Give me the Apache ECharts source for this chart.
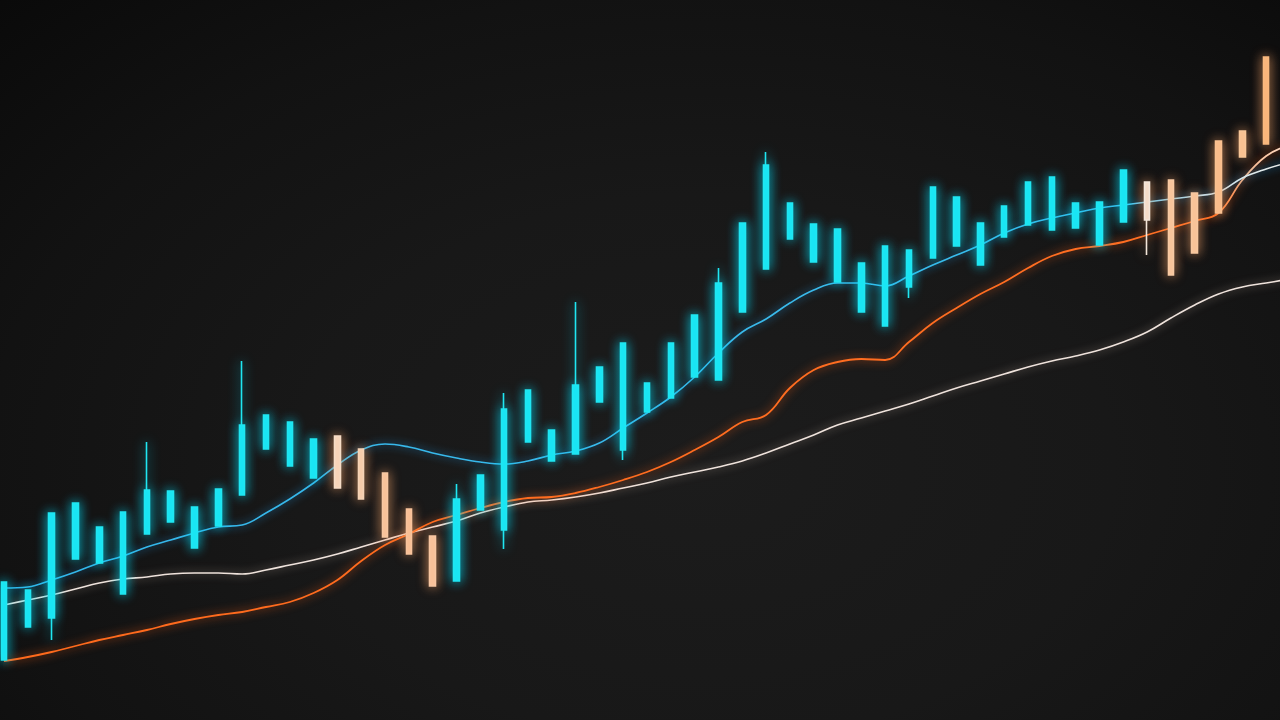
<!DOCTYPE html>
<html>
<head>
<meta charset="utf-8">
<script src="https://cdn.jsdelivr.net/npm/echarts@6/dist/echarts.min.js"></script>
<style>
html,body{margin:0;padding:0;width:1280px;height:720px;overflow:hidden;
background:radial-gradient(ellipse 80% 95% at 55% 65%, #1c1c1c 0%, #181818 40%, #121212 70%, #090909 100%);}
#chart{width:1280px;height:720px;}
</style>
</head>
<body>
<div id="chart"></div>
<script>
// ---- data (price units) ----
const categories = Array.from({length: 55}, (_, i) => 'D' + (i + 1));
const openVals  = [6.0,9.3,10.2,16.1,15.7,12.6,18.6,19.8,17.2,19.4,22.5,27.1,25.4,24.2,28.4,27.1,24.7,21.1,18.4,13.9,21.0,19.0,27.8,25.9,26.6,31.8,27.0,30.8,32.2,34.3,34.0,40.8,45.1,48.1,45.8,43.8,40.8,39.4,43.3,46.2,47.4,45.5,48.3,49.5,49.0,49.2,47.5,49.8,53.8,54.0,52.7,57.9,58.9,66.3];
const closeVals = [13.8,13.0,20.7,21.7,19.3,20.8,23.0,22.9,21.3,23.1,29.5,30.5,29.8,28.1,23.2,22.1,18.3,16.6,13.4,22.1,24.5,31.1,33.0,29.0,33.5,35.3,37.7,33.7,37.7,40.5,43.7,49.7,55.5,51.7,49.6,49.1,45.7,47.4,47.0,53.3,52.3,49.7,51.4,53.8,54.3,51.7,51.8,55.0,50.0,44.5,46.7,50.7,56.3,57.6];
const lowVals   = [6.0,9.3,8.0,16.1,15.7,12.6,18.6,19.8,17.2,19.4,22.5,27.1,25.4,24.2,23.2,22.1,18.3,16.6,13.4,13.9,21.0,17.1,27.8,25.9,26.6,31.8,26.0,30.8,32.2,34.3,34.0,40.8,45.1,48.1,45.8,43.8,40.8,39.4,42.2,46.2,47.4,45.5,48.3,49.5,49.0,49.2,47.5,49.8,46.5,44.5,46.7,50.7,56.3,57.6];
const highVals  = [13.8,13.0,20.7,21.7,19.3,20.8,27.8,22.9,21.3,23.1,35.9,30.5,29.8,28.1,28.4,27.1,24.7,21.1,18.4,23.6,24.5,32.7,33.0,29.0,41.8,35.3,37.7,33.7,37.7,40.5,45.2,49.7,56.8,51.7,49.6,49.1,45.7,47.4,47.0,53.3,52.3,49.7,51.4,53.8,54.3,51.7,51.8,55.0,53.8,54.0,52.7,57.9,58.9,66.3];
const maCyan   = [13.2,13.3,14.0,14.8,15.7,16.4,17.3,18.0,18.7,19.3,19.5,20.7,22.1,23.7,25.5,27.0,27.6,27.3,26.7,26.2,25.8,25.6,25.9,26.5,26.9,27.7,29.2,30.7,32.3,34.3,36.7,38.8,40.1,41.7,43.0,43.7,43.7,43.4,44.4,45.5,46.5,47.5,48.7,49.6,50.2,50.7,51.2,51.5,51.8,52.1,52.4,52.8,54.2,55.1,55.8];
const maOrange = [5.9,6.3,6.8,7.4,8.0,8.5,9.0,9.6,10.1,10.5,10.8,11.3,11.8,12.7,14.0,15.9,17.5,18.6,19.8,20.5,21.2,21.8,22.2,22.3,22.7,23.3,24.0,24.8,25.8,27.0,28.3,29.8,30.5,33.2,35.0,35.8,36.1,36.0,37.8,39.7,41.2,42.6,43.8,45.2,46.4,47.1,47.4,47.8,48.5,49.2,49.9,50.7,54.0,56.4,57.5];
const maWhite  = [11.5,12.0,12.5,13.1,13.7,14.1,14.3,14.6,14.7,14.7,14.6,15.0,15.5,16.0,16.6,17.3,18.0,18.7,19.3,19.9,20.7,21.3,21.8,22.0,22.3,22.7,23.2,23.7,24.3,24.8,25.3,25.9,26.7,27.6,28.5,29.5,30.2,30.9,31.6,32.4,33.2,33.9,34.6,35.3,35.9,36.4,37.0,37.8,38.8,40.2,41.5,42.6,43.3,43.7,44.1];

// ---- styles ----
const downTint = {14:'#f6dcc6',15:'#f5d3b6',16:'#f7c7a2',17:'#f8c39c',18:'#f7c6a2',48:'#f3e6da',49:'#f7caa4',50:'#f7c8a0',51:'#f9c090',52:'#f8c698',53:'#f9b87e'};

const candleData = openVals.map((o, i) => {
  const item = {value: [o, closeVals[i], lowVals[i], highVals[i]]};
  if (downTint[i]) {
    item.itemStyle = {color0: downTint[i], borderColor0: downTint[i], shadowColor: 'rgba(255,170,110,0.75)'};
  }
  return item;
});

const chart = echarts.init(document.getElementById('chart'), null, {renderer: 'canvas'});

function grad(stops) {
  return new echarts.graphic.LinearGradient(0, 0, 1, 0, stops.map(s => ({offset: s[0], color: s[1]})));
}

chart.setOption({
  backgroundColor: 'transparent',
  animation: false,
  grid: {left: 4, top: 0, width: 1286, height: 720, outerBoundsMode: 'none', containLabel: false},
  xAxis: {type: 'category', data: categories, boundaryGap: false, show: false},
  yAxis: {type: 'value', min: 0, max: 72, show: false, splitLine: {show: false}},
  series: [
    {
      type: 'line', data: maWhite, smooth: 0.4, symbol: 'none', z: 2,
      lineStyle: {width: 1.6, color: '#efe3dc', shadowBlur: 8, shadowColor: 'rgba(255,225,210,0.55)'}
    },
    {
      type: 'line', data: maOrange, smooth: 0.4, symbol: 'none', z: 3,
      lineStyle: {width: 1.8,
        color: grad([[0,'#ff6a1c'],[0.94,'#ff6e22'],[0.965,'#ffb888'],[1,'#fbe8dc']]),
        shadowBlur: 10, shadowColor: 'rgba(255,95,20,0.9)'}
    },
    {
      type: 'line', data: maCyan, smooth: 0.4, symbol: 'none', z: 4,
      lineStyle: {width: 1.6,
        color: grad([[0,'#34b6ea'],[0.86,'#3cbcec'],[0.93,'#bfe3f3'],[1,'#f1ece6']]),
        shadowBlur: 9, shadowColor: 'rgba(30,170,255,0.85)'}
    },
    {
      type: 'candlestick', data: candleData, barWidth: 6, clip: false, z: 5,
      itemStyle: {
        color: '#1fe6f2', borderColor: '#1fe6f2',
        color0: '#f7c6a0', borderColor0: '#f7c6a0',
        borderWidth: 1.6,
        shadowBlur: 12, shadowColor: 'rgba(0,225,255,0.85)'
      }
    }
  ]
});
</script>
</body>
</html>
